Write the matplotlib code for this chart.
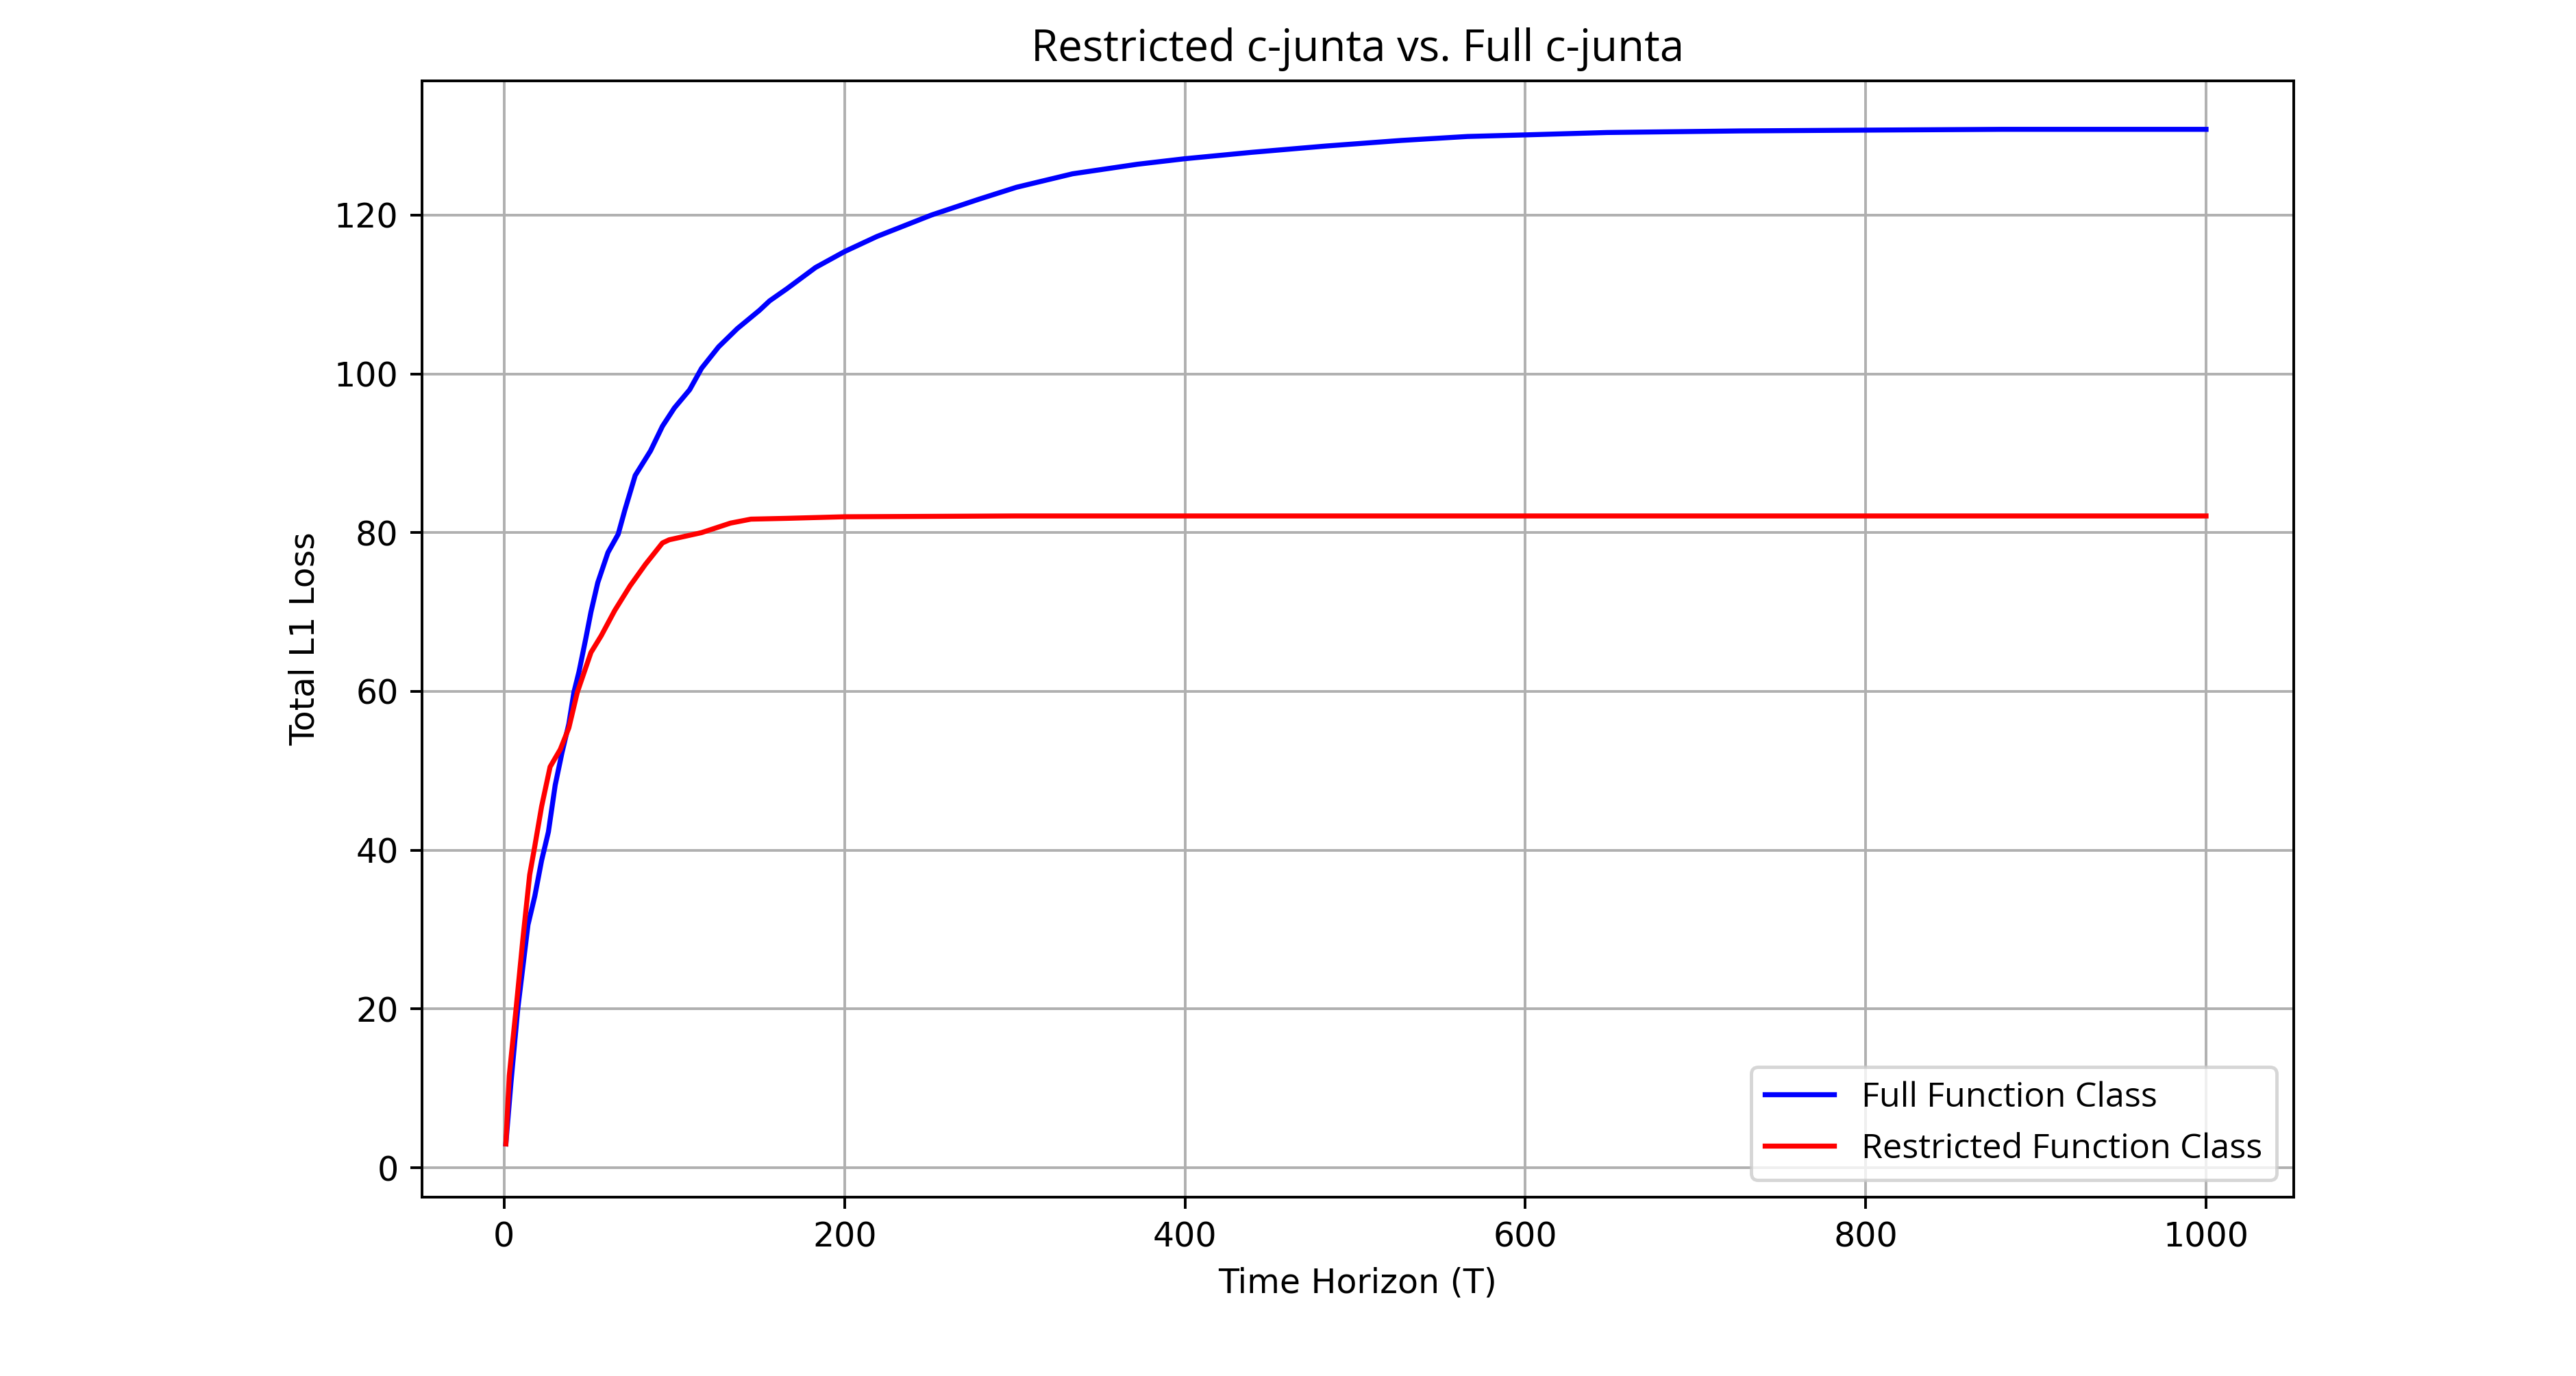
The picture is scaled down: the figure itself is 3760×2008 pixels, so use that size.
import matplotlib
matplotlib.use("Agg")
import matplotlib.pyplot as plt

# cumulative L1 loss
t_full = [1, 4, 8, 14, 18, 22, 26, 30, 34, 38, 41, 44, 48, 51, 55, 61, 67, 71, 77,
          86, 93, 100, 109, 116, 126, 137, 150, 156, 166, 183, 200, 219, 251, 279,
          301, 334, 372, 400, 439, 483, 527, 566, 600, 648, 726, 800, 880, 1000]
loss_full = [3.0, 10.7, 20.0, 30.6, 34.2, 38.7, 42.3, 48.2, 52.3, 55.9, 59.9, 62.5,
             66.7, 70.0, 73.7, 77.5, 79.8, 82.9, 87.2, 90.3, 93.4, 95.7, 98.0, 100.7,
             103.4, 105.7, 108.0, 109.2, 110.7, 113.4, 115.4, 117.3, 120.0, 122.0,
             123.5, 125.2, 126.4, 127.1, 127.9, 128.7, 129.4, 129.9, 130.1, 130.4,
             130.6, 130.7, 130.8, 130.8]

t_restr = [1, 3, 7, 11, 15, 18, 22, 27, 33, 38, 43, 51, 57, 65, 74, 83, 93, 97,
           116, 133, 145, 166, 200, 300, 1000]
loss_restr = [3.0, 11.6, 20.0, 28.8, 36.9, 40.5, 45.5, 50.5, 52.7, 55.4, 59.9, 64.9,
              67.0, 70.2, 73.3, 76.0, 78.7, 79.1, 80.0, 81.2, 81.7, 81.8, 82.0, 82.1,
              82.1]

DPI = 352.5
fig = plt.figure(figsize=(3760 / DPI, 2008 / DPI), dpi=DPI)
ax = fig.add_axes([0.1638, 0.1300, 0.7266, 0.8112])

ax.plot(t_full, loss_full, color='blue', label='Full Function Class')
ax.plot(t_restr, loss_restr, color='red', label='Restricted Function Class')

ax.set_xlim(-48.3, 1051.5)
ax.set_ylim(-3.7, 136.9)
ax.set_xlabel('Time Horizon (T)')
ax.set_ylabel('Total L1 Loss')
ax.set_title('Restricted c-junta vs. Full c-junta', family='Open Sans', fontsize=13)
ax.grid(True)
ax.legend(loc='lower right', prop={'family': 'Open Sans', 'size': 10.3})

fig.savefig('out.png', dpi=DPI)
